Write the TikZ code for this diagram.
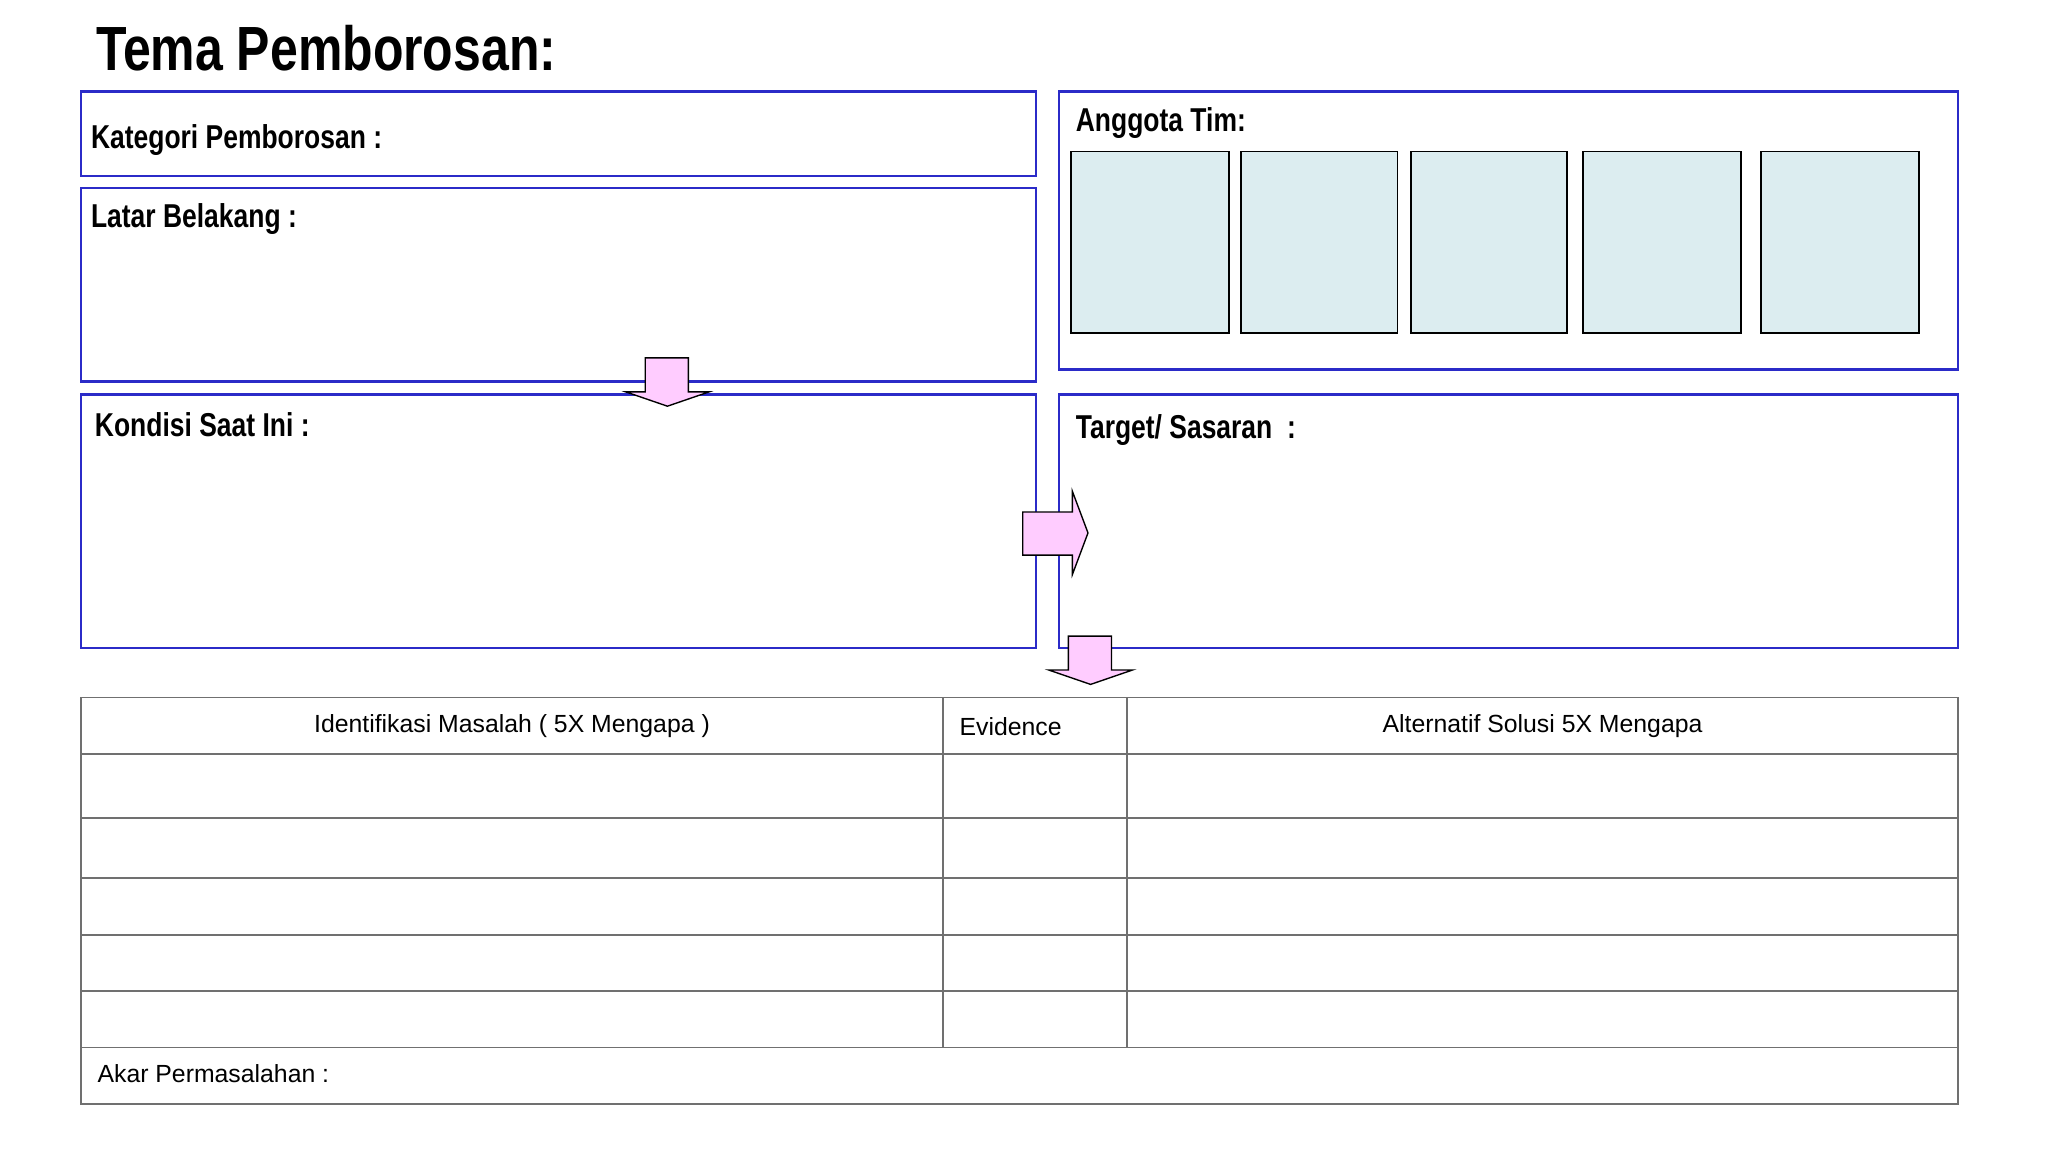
\documentclass[tikz,border=0pt]{standalone}
\usepackage{fontspec}
\setmainfont{Liberation Sans}
\newfontfamily\narrowfont[FakeStretch=0.80]{Liberation Sans}
\usetikzlibrary{positioning}
\definecolor{boxblue}{HTML}{2B2BC8}
\definecolor{tealfill}{HTML}{DCEDF0}
\definecolor{arrowpink}{HTML}{FFCCFF}
\definecolor{tablegray}{HTML}{707070}
\tikzset{
  panel/.style={draw=boxblue, line width=0.5pt},
  member/.style={draw=black, fill=tealfill, line width=0.4pt},
  head/.style={anchor=west, inner sep=0pt, font=\narrowfont\bfseries\fontsize{7.2pt}{8pt}\selectfont},
  cell/.style={inner sep=0pt, font=\fontsize{5.4pt}{6pt}\selectfont},
  bigarrow/.style={draw=black, fill=arrowpink, line width=0.3pt},
}
\begin{document}
\begin{tikzpicture}[x=0.01cm, y=-0.01cm]
\useasboundingbox (0,0) rectangle (1568,882);
% title
\node[head, font=\narrowfont\bfseries\fontsize{13.6pt}{15pt}\selectfont] (title) at (73,37) {Tema Pemborosan:};
% left panels
\draw[panel] (62,70) rectangle (793,135);
\node[head] (kategori) at (69,107) {Kategori Pemborosan :};
\draw[panel] (62,144) rectangle (793,292);
\node[head] (latar) at (69,168) {Latar Belakang :};
\draw[panel] (62,302) rectangle (793,496);
\node[head] (kondisi) at (72,325) {Kondisi Saat Ini :};
% right panels
\draw[panel] (811,70) rectangle (1499,283);
\node[head] (anggota) at (823,94) {Anggota Tim:};
\foreach \xa/\xb in {820/941, 950/1070, 1080/1200, 1212/1333, 1348/1469}
  \draw[member] (\xa,116) rectangle (\xb,255);
\draw[panel] (811,302) rectangle (1499,496);
\node[head] (target) at (823,329) {Target/ Sasaran~~:};
% arrows
\draw[bigarrow] (494,274) -- (527,274) -- (527,300) -- (543,300) -- (511,311) -- (479,300) -- (494,300) -- cycle;
\draw[bigarrow] (783,392) -- (821,392) -- (821,376) -- (833,408) -- (821,440) -- (821,425) -- (783,425) -- cycle;
\draw[bigarrow] (818,487) -- (851,487) -- (851,513) -- (867,513) -- (835,524) -- (803,513) -- (818,513) -- cycle;
% table
\draw[tablegray, line width=0.4pt] (62,534) rectangle (1499,845);
\foreach \y in {577,626,672,716,759,802}
  \draw[tablegray, line width=0.4pt] (62,\y) -- (1499,\y);
\draw[tablegray, line width=0.4pt] (722,534) -- (722,802);
\draw[tablegray, line width=0.4pt] (863,534) -- (863,802);
\node[cell] (colmasalah) at (392,556) {Identifikasi Masalah ( 5X Mengapa )};
\node[cell, anchor=west] (colevidence) at (734,556) {Evidence};
\node[cell] (colsolusi) at (1181,556) {Alternatif Solusi 5X Mengapa};
\node[cell, anchor=west] (akar) at (74,822) {Akar Permasalahan :};
\end{tikzpicture}
\end{document}
